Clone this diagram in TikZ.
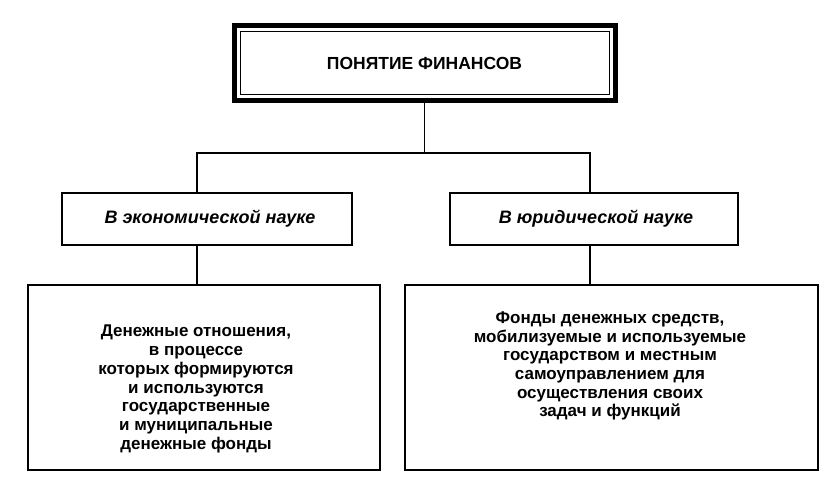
\documentclass[tikz,border=0pt]{standalone}
\usepackage{fontspec}
\setmainfont{Liberation Sans}
\begin{document}
\begin{tikzpicture}[x=1pt,y=-1pt,
  box/.style={draw,line width=1.6pt,inner sep=0pt},
  ln/.style={line width=1.2pt},
  txt/.style={font=\bfseries\fontsize{17}{18.7}\selectfont,align=center}]
\useasboundingbox (0,0) rectangle (832,485);
% top
\draw[line width=5pt] (234,25) rectangle (615,100);
\draw[line width=0.8pt] (240,31) rectangle (609,94);
\node[font=\bfseries\fontsize{17.5}{20}\selectfont] (top) at (424.5,63) {ПОНЯТИЕ ФИНАНСОВ};
\coordinate (topb) at (424.5,102.5);
% level 2
\draw[box] (62,193) rectangle (352,245);
\node[font=\bfseries\itshape\fontsize{18}{20}\selectfont] (eco) at (210,219) {В экономической науке};
\draw[box] (450,193) rectangle (738,245);
\node[font=\bfseries\itshape\fontsize{18}{20}\selectfont] (jur) at (596,219) {В юридической науке};
\coordinate (ecot) at (197,193); \coordinate (jurt) at (590,193);
\coordinate (ecob) at (197,245); \coordinate (jurb) at (590,245);
\coordinate (mid) at (424.5,153);
\draw[ln] (topb) -- (mid);
\draw[ln] (ecot) |- (mid) -| (jurt);
% bottom
\draw[box] (28,285) rectangle (380,470);
\draw[box] (405,285) rectangle (818,470);
\coordinate (ecot2) at (197,285); \coordinate (jurt2) at (590,285);
\draw[ln] (ecob) -- (ecot2);
\draw[ln] (jurb) -- (jurt2);
\node[txt] (eTxt) at (196,389) {Денежные отношения,\\в процессе\\которых формируются\\и используются\\государственные\\и муниципальные\\денежные фонды};
\node[txt] (jTxt) at (610,366) {Фонды денежных средств,\\мобилизуемые и используемые\\государством и местным\\самоуправлением для\\осуществления своих\\задач и функций};
\end{tikzpicture}
\end{document}
